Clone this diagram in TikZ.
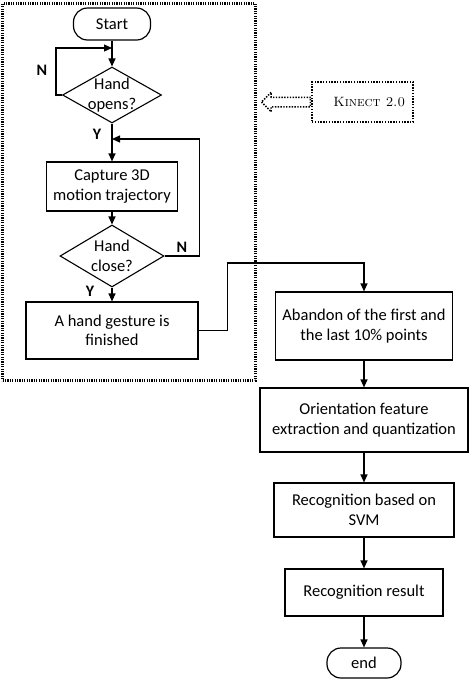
\documentclass[tikz,border=0pt]{standalone}
\usepackage{fontspec}
\newfontfamily\calib{Carlito}
\usetikzlibrary{arrows.meta, positioning, shapes.geometric, shapes.arrows}
\tikzset{
  box/.style={draw, line width=1.2pt, align=center, font=\calib\fontsize{16.5}{19.5}\selectfont, inner sep=0pt},
  term/.style={box, rounded corners=14pt},
  dec/.style={draw, line width=1.1pt, diamond, inner sep=0pt},
  txt/.style={align=center, font=\calib\fontsize{16.5}{19.5}\selectfont, inner sep=0pt},
  yn/.style={font=\calib\bfseries\fontsize{16}{18}\selectfont, inner sep=0pt},
  flow/.style={line width=1.2pt, -{Triangle[width=7pt,length=8pt]}},
  dotline/.style={line width=1.5pt, dash pattern=on 1.4pt off 1.4pt},
}
\begin{document}
\begin{tikzpicture}[x=1pt, y=-1pt]
		\useasboundingbox (0,0) rectangle (474,681);
		% Frames:
		\node[draw, line width=2.6pt, dash pattern=on 1.2pt off 1.2pt, minimum width=253pt, minimum height=377pt, inner sep=0pt](frame) at (129,192){};
		\node[draw, dotline, minimum width=101pt, minimum height=40pt, inner sep=0pt, font=\fontsize{13.5}{16}\selectfont](kinect) at (362.5,102){\quad\textsc{Kinect 2.0}};
		\node[single arrow, draw, dotline, shape border rotate=180, minimum height=49pt, inner sep=4pt, single arrow head extend=5pt, left=0pt of kinect](karrow){};
		% Left column:
		\node[term, minimum width=77pt, minimum height=32pt](start) at (112,24){Start};
		\node[dec, minimum width=99pt, minimum height=56pt](open) at (112,95){};
		\node[txt](openT) at (open){Hand\\opens?};
		\node[box, minimum width=131pt, minimum height=49pt](capture) at (112,186.5){Capture 3D\\motion trajectory};
		\node[dec, minimum width=104pt, minimum height=62pt](close) at (112,256){};
		\node[txt](closeT) at (close){Hand\\close?};
		\node[box, minimum width=172pt, minimum height=57pt](finish) at (112,330.5){A hand gesture is\\finished};
		\node[yn](n1) at (42,70){N};
		\node[yn](y1) at (97,134){Y};
		\node[yn](n2) at (182,247){N};
		\node[yn](y2) at (90,291){Y};
		% Right column:
		\node[box, minimum width=177pt, minimum height=68pt](abandon) at (364,326){Abandon of the first and\\the last 10\% points};
		\node[box, minimum width=208pt, minimum height=64pt](orient) at (364,420){Orientation feature\\extraction and quantization};
		\node[box, minimum width=180pt, minimum height=54pt](svm) at (364,510){Recognition based on\\SVM};
		\node[box, minimum width=158pt, minimum height=47pt](result) at (364,592.5){Recognition result};
		\node[term, minimum width=74pt, minimum height=30pt](end) at (364,663){end};
		% Wires:
		\coordinate (j1) at (112,48);
		\coordinate (j2) at (112,139);
		\coordinate (j3) at (364,263);
		\draw[flow] (start) -- (open);
		\draw[flow] (open.west) -- ++(-6,0) |- (j1);
		\draw[flow] (open) -- (capture);
		\draw[flow] (capture) -- (close);
		\draw[flow] (close.east) -- ++(35,0) |- (j2);
		\draw[flow] (close) -- (finish);
		\draw[flow] (finish.east) -- ++(29,0) |- (j3) -- (abandon);
		\draw[flow] (abandon) -- (orient);
		\draw[flow] (orient) -- (svm);
		\draw[flow] (svm) -- (result);
		\draw[flow] (result) -- (end);
	\end{tikzpicture}
\end{document}
